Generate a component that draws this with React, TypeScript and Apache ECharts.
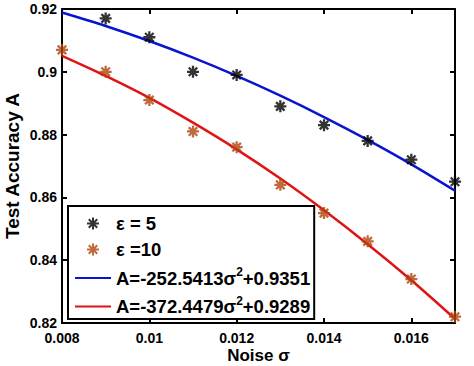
import React, { useEffect, useRef } from "react";
import * as echarts from "echarts";

const noise = [0.008, 0.009, 0.01, 0.011, 0.012, 0.013, 0.014, 0.015, 0.016, 0.017];
const eps5 = [null, 0.917, 0.911, 0.9, 0.899, 0.889, 0.883, 0.878, 0.872, 0.865];
const eps10 = [0.907, 0.9, 0.891, 0.881, 0.876, 0.864, 0.855, 0.846, 0.834, 0.822];
const fit5 = [0.9189, 0.9146, 0.9098, 0.9045, 0.8987, 0.8924, 0.8856, 0.8783, 0.8705, 0.8621];
const fit10 = [0.9051, 0.8987, 0.8917, 0.8838, 0.8753, 0.866, 0.8559, 0.8451, 0.8336, 0.8213];
const seriesNames = ["ε = 5", "ε =10", "A=-252.5413σ²+0.9351", "A=-372.4479σ²+0.9289"];

const FONT = "'Liberation Sans', Arial, Helvetica, sans-serif";
const STAR = "path://M0,-10L0,10M-10,0L10,0M-7.07,-7.07L7.07,7.07M-7.07,7.07L7.07,-7.07";
const BAR = "path://M0,0H36V2.2H0Z";

const pairs = (ys: (number | null)[]) =>
  noise.map((x, i) => [x, ys[i]]).filter((p) => p[1] !== null);

export default function App() {
  const ref = useRef<HTMLDivElement>(null);
  useEffect(() => {
    if (!ref.current) return;
    const chart = echarts.init(ref.current, null, { renderer: "svg" });
    const axisLine = { show: true, lineStyle: { color: "#000", width: 2 } };
    const tick = { show: true, inside: true, length: 5, lineStyle: { color: "#000", width: 2 } };
    const lbl = { color: "#000", fontFamily: FONT, fontWeight: "bold" as const, fontSize: 14 };
    chart.setOption({
      animation: false,
      backgroundColor: "#fff",
      grid: { left: 62, right: 19, top: 9, bottom: 43, containLabel: false, outerBoundsMode: "none" },
      xAxis: [
        {
          type: "value", min: 0.008, max: 0.017, interval: 0.002,
          axisLine, axisTick: tick, splitLine: { show: false },
          axisLabel: { ...lbl, margin: 8, showMaxLabel: false },
          name: "Noise σ", nameLocation: "middle", nameGap: 24, nameMoveOverlap: false,
          nameTextStyle: { color: "#000", fontFamily: FONT, fontWeight: "bold", fontSize: 17, lineHeight: 17 },
        },
        {
          type: "value", position: "top", min: 0.008, max: 0.017, interval: 0.002,
          axisLine, axisTick: tick, splitLine: { show: false }, axisLabel: { show: false },
        },
      ],
      yAxis: [
        {
          type: "value", min: 0.82, max: 0.92, interval: 0.02,
          axisLine, axisTick: tick, splitLine: { show: false },
          axisLabel: { ...lbl, margin: 5 },
          name: "Test Accuracy A", nameLocation: "middle", nameGap: 40, nameMoveOverlap: false,
          nameTextStyle: { color: "#000", fontFamily: FONT, fontWeight: "bold", fontSize: 19 },
        },
        {
          type: "value", position: "right", min: 0.82, max: 0.92, interval: 0.02,
          axisLine, axisTick: tick, splitLine: { show: false }, axisLabel: { show: false },
        },
      ],
      legend: {
        orient: "vertical", left: 68, top: 206,
        padding: [8, 4, 3, 7], itemGap: 7, itemWidth: 36, itemHeight: 12,
        borderColor: "#000", borderWidth: 2, backgroundColor: "#fff",
        data: [
          { name: seriesNames[0] },
          { name: seriesNames[1] },
          { name: seriesNames[2], icon: BAR },
          { name: seriesNames[3], icon: BAR },
        ],
        textStyle: {
          color: "#000", fontFamily: FONT, fontWeight: "bold", fontSize: 18.5,
          rich: {
            b: { color: "#000", fontFamily: FONT, fontWeight: "bold", fontSize: 18.5 },
            sup: { color: "#000", fontFamily: FONT, fontWeight: "bold", fontSize: 12, verticalAlign: "top", padding: [0, 0, 12, 0] },
          },
        },
        formatter: (n: string) => {
          const i = n.indexOf("²");
          if (i < 0) return `{b|${n}}`;
          return `{b|${n.slice(0, i)}}{sup|2}{b|${n.slice(i + 1)}}`;
        },
      },
      series: [
        {
          name: seriesNames[0], type: "scatter", data: pairs(eps5), clip: false,
          symbol: STAR, symbolSize: 12,
          itemStyle: { color: "#000", borderColor: "#000", borderWidth: 2.3 },
          z: 3,
        },
        {
          name: seriesNames[1], type: "scatter", data: pairs(eps10), clip: false,
          symbol: STAR, symbolSize: 12,
          itemStyle: { color: "#b0440c", borderColor: "#b0440c", borderWidth: 2.3 },
          z: 3,
        },
        {
          name: seriesNames[2], type: "line", data: pairs(fit5), smooth: 0.3,
          symbol: "none", lineStyle: { color: "#0a14d0", width: 2.5 }, itemStyle: { color: "#0a14d0" },
          z: 2,
        },
        {
          name: seriesNames[3], type: "line", data: pairs(fit10), smooth: 0.3,
          symbol: "none", lineStyle: { color: "#e01414", width: 2.5 }, itemStyle: { color: "#e01414" },
          z: 2,
        },
      ],
    });
    return () => chart.dispose();
  }, []);
  return <div ref={ref} style={{ width: 474, height: 366, position: "absolute", left: 0, top: 0 }} />;
}
